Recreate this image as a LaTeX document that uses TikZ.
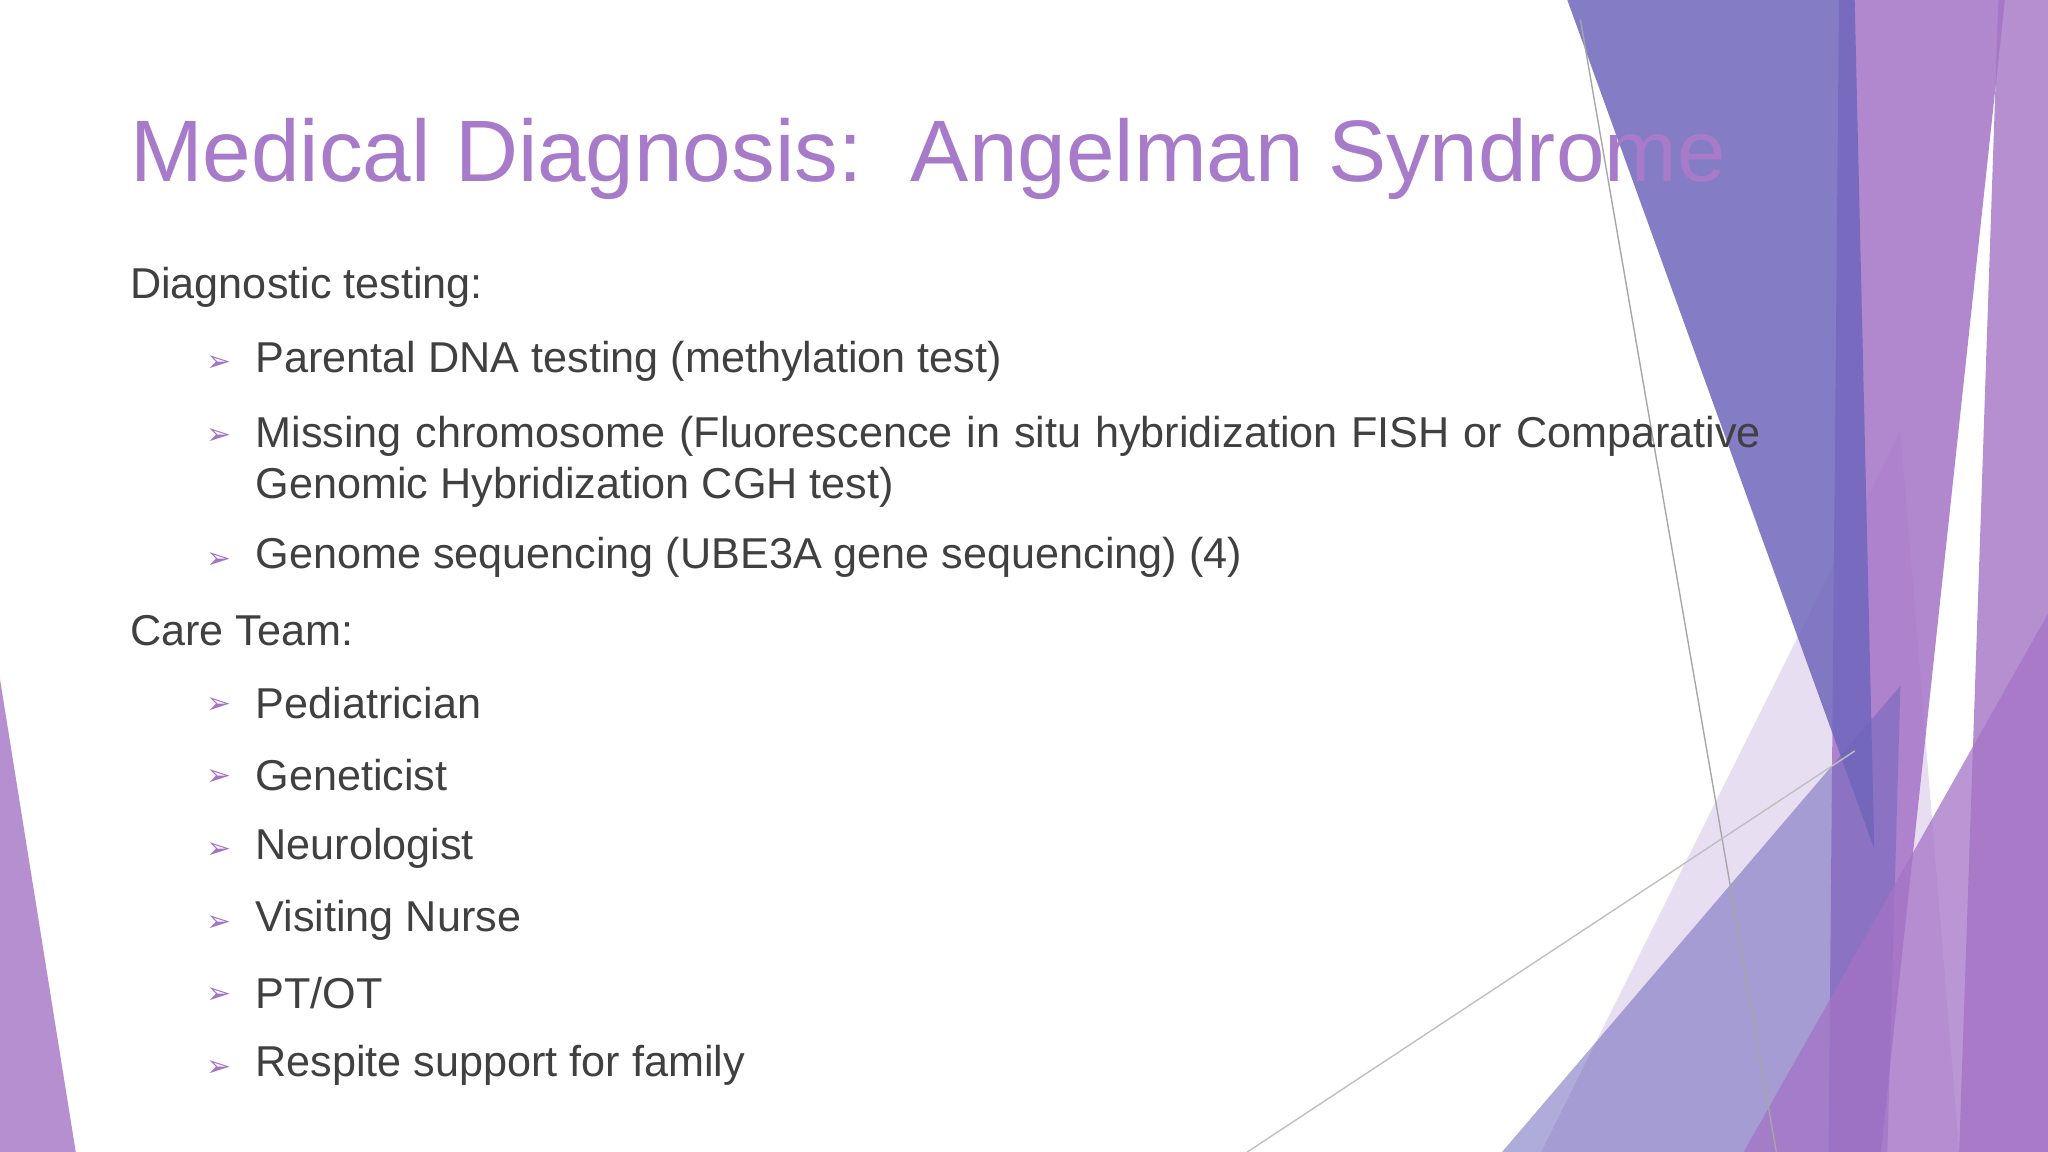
\documentclass[tikz,border=0pt]{standalone}
\usepackage{fontspec}
\setmainfont{Liberation Sans}
\newfontfamily\symfont{DejaVu Sans}
\definecolor{titlecol}{HTML}{A77BCA}
\definecolor{textcol}{HTML}{404040}
\definecolor{bluepurp}{HTML}{6F66BC}
\definecolor{violet}{HTML}{A473C6}
\definecolor{lilac}{HTML}{D9C8E8}
\tikzset{
  title/.style={anchor=west, inner sep=0pt, text=titlecol, font=\fontsize{19}{22}\selectfont},
  head/.style={anchor=west, inner sep=0pt, text=textcol, font=\fontsize{9.4}{12}\selectfont},
  item/.style={anchor=west, inner sep=0pt, text=textcol, font=\fontsize{9.4}{11.1}\selectfont},
  tick/.style={anchor=center, inner sep=0pt, text=violet, font=\symfont\fontsize{6.5}{7}\selectfont},
}
\begin{document}
\begin{tikzpicture}[x=0.01cm,y=-0.01cm]
\useasboundingbox (0,0) rectangle (1568,882);
\fill[white] (0,0) rectangle (1568,882);
% decoration, right side
\fill[lilac,opacity=0.6] (1180,882) -- (1455,330) -- (1500,882) -- cycle;
\fill[violet,opacity=0.85] (1408,0) -- (1535,0) -- (1440,882) -- (1400,882) -- cycle;
\fill[bluepurp,opacity=0.85] (1200,0) -- (1420,0) -- (1435,650) -- cycle;
\fill[bluepurp,opacity=0.55] (1150,882) -- (1455,525) -- (1445,882) -- cycle;
\fill[violet,opacity=0.8] (1530,0) -- (1568,0) -- (1568,882) -- (1500,882) -- cycle;
\fill[violet,opacity=0.75] (1335,882) -- (1568,470) -- (1568,882) -- cycle;
\draw[gray!70,line width=0.3pt] (1210,15) -- (1360,882);
\draw[gray!50,line width=0.3pt] (955,882) -- (1420,575);
% decoration, left side
\fill[violet,opacity=0.8] (0,520) -- (58,882) -- (0,882) -- cycle;
% text
\node[title] (ttl) at (99,122) {Medical Diagnosis:\ \ Angelman Syndrome};
\node[head] (dx) at (99,220) {Diagnostic testing:};
\node[tick] at (168,278) {➢};
\node[item] (dx1) at (195,277) {Parental DNA testing (methylation test)};
\node[tick] at (168,334) {➢};
\node[item,anchor=north west] (dx2) at (195,318) {\parbox{11.52cm}{\rightskip=0pt Missing chromosome (Fluorescence in situ hybridization FISH or Comparative Genomic Hybridization CGH test)}};
\node[tick] at (168,429) {➢};
\node[item] (dx3) at (195,427) {Genome sequencing (UBE3A gene sequencing) (4)};
\node[head] (ct) at (99,483) {Care Team:};
\foreach \t [count=\i] in {Pediatrician,Geneticist,Neurologist,Visiting Nurse,PT/OT,Respite support for family}{
  \node[tick] at (168,{540+55.6*(\i-1)}) {➢};
  \node[item] (ct\i) at (195,{538+55.6*(\i-1)}) {\t};
}
\end{tikzpicture}
\end{document}
